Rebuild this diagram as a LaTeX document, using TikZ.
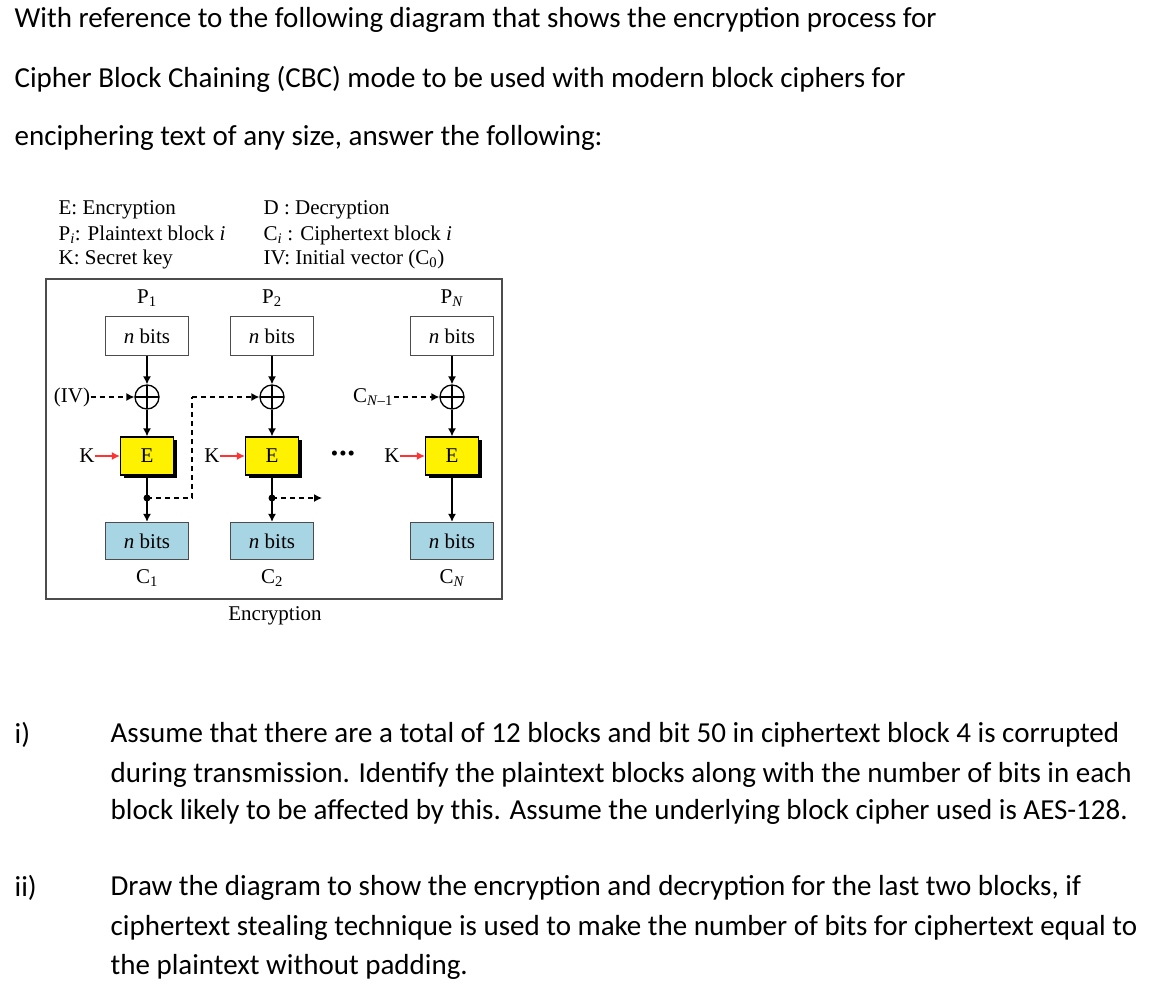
\documentclass[tikz,border=0pt]{standalone}
\usepackage{fontspec}
\setmainfont{Carlito}
\newfontfamily\tms{Liberation Serif}
\usetikzlibrary{arrows.meta,shadows}
\begin{document}
\begin{tikzpicture}[x=1pt,y=-1pt,line width=1.3pt,
  body/.style={anchor=west,font=\fontsize{29}{29}\selectfont,inner sep=0},
  dg/.style={font=\tms\fontsize{21}{21}\selectfont,inner sep=0},
  pbox/.style={draw=black!70,minimum width=83,minimum height=39,dg,fill=white},
  cbox/.style={draw=black!70,minimum width=83,minimum height=37,dg,fill={rgb,255:red,168;green,213;blue,228}},
  ebox/.style={draw=black,minimum width=53,minimum height=38,dg,fill=yellow,drop shadow={shadow xshift=3pt,shadow yshift=-3pt,opacity=1,fill=black}},
  xo/.style={draw,circle,minimum size=24,inner sep=0,path picture={\draw (path picture bounding box.north) -- (path picture bounding box.south) (path picture bounding box.west) -- (path picture bounding box.east);}},
  ar/.style={-{Latex[length=8pt,width=8pt]}},
  da/.style={-{Latex[length=8pt,width=8pt]},dash pattern=on 5pt off 4pt},
  ka/.style={-{Latex[length=8pt,width=8pt]},red!80!white}]
\useasboundingbox (0,0) rectangle (1164,998);
\fill[white] (0,0) rectangle (1164,998);
\node[body] (t1) at (14,20) {With reference to the following diagram that shows the encryption process for};
\node[body] (t2) at (14,79) {Cipher Block Chaining (CBC) mode to be used with modern block ciphers for};
\node[body] (t3) at (14,138) {enciphering text of any size, answer the following:};
% legend
\node[dg,anchor=west] (l1) at (58,210) {E: Encryption};
\node[dg,anchor=west] (l2) at (58,235) {P\textsubscript{\textit{i}}: Plaintext block \textit{i}};
\node[dg,anchor=west] (l3) at (58,259) {K: Secret key};
\node[dg,anchor=west] (r1) at (263,210) {D : Decryption};
\node[dg,anchor=west] (r2) at (263,235) {C\textsubscript{\textit{i}} : Ciphertext block \textit{i}};
\node[dg,anchor=west] (r3) at (263,259) {IV: Initial vector (C\textsubscript{0})};
\draw[black!70] (46,279) rectangle (502,599);
\foreach \i/\x/\s in {1/147/1,2/272/2,3/452/\textit{N}}{
  \node[dg] (P\i) at (\x,298) {P\textsubscript{\s}};
  \node[pbox] (pb\i) at (\x,336) {\textit{n} bits};
  \node[xo] (x\i) at (\x,397) {};
  \node[ebox] (e\i) at (\x,456) {E};
  \node[cbox] (cb\i) at (\x,541) {\textit{n} bits};
  \node[dg] (C\i) at (\x,578) {C\textsubscript{\s}};
  \node[dg] (K\i) at (\x-60,456) {K};
  \draw[ar] (pb\i) -- (x\i);
  \draw[ar] (x\i) -- (e\i);
  \draw[ka] (K\i) -- (e\i);
}
\fill (147,498) circle (3.5) coordinate (d1);
\fill (272,498) circle (3.5) coordinate (d2);
\draw[ar] (e1) -- (cb1);
\draw[ar] (e2) -- (cb2);
\draw[ar] (e3) -- (cb3);
\node[dg] (iv) at (72,397) {(IV)};
\draw[da] (iv) -- (x1);
\draw[dash pattern=on 5pt off 4pt] (d1) -- (192,498) -- (192,397) coordinate (bend);
\draw[da] (bend) -- (x2);
\coordinate (d2e) at (322,498);
\draw[da] (d2) -- (d2e);
\node[dg] (cn) at (373,397) {C\textsubscript{\textit{N}–1}};
\draw[da] (cn) -- (x3);
\node[dg] (dots) at (343,456) {\textbullet\kern1pt\textbullet\kern1pt\textbullet};
\node[dg] (enc) at (275,616) {Encryption};
% questions
\node[body] (q1) at (14,735) {i)};
\node[body] (q1a) at (110,735) {Assume that there are a total of 12 blocks and bit 50 in ciphertext block 4 is corrupted};
\node[body] (q1b) at (110,775) {during transmission. Identify the plaintext blocks along with the number of bits in each};
\node[body] (q1c) at (110,812) {block likely to be affected by this. Assume the underlying block cipher used is AES-128.};
\node[body] (q2) at (14,888) {ii)};
\node[body] (q2a) at (110,888) {Draw the diagram to show the encryption and decryption for the last two blocks, if};
\node[body] (q2b) at (110,928) {ciphertext stealing technique is used to make the number of bits for ciphertext equal to};
\node[body] (q2c) at (110,967) {the plaintext without padding.};
\end{tikzpicture}
\end{document}
